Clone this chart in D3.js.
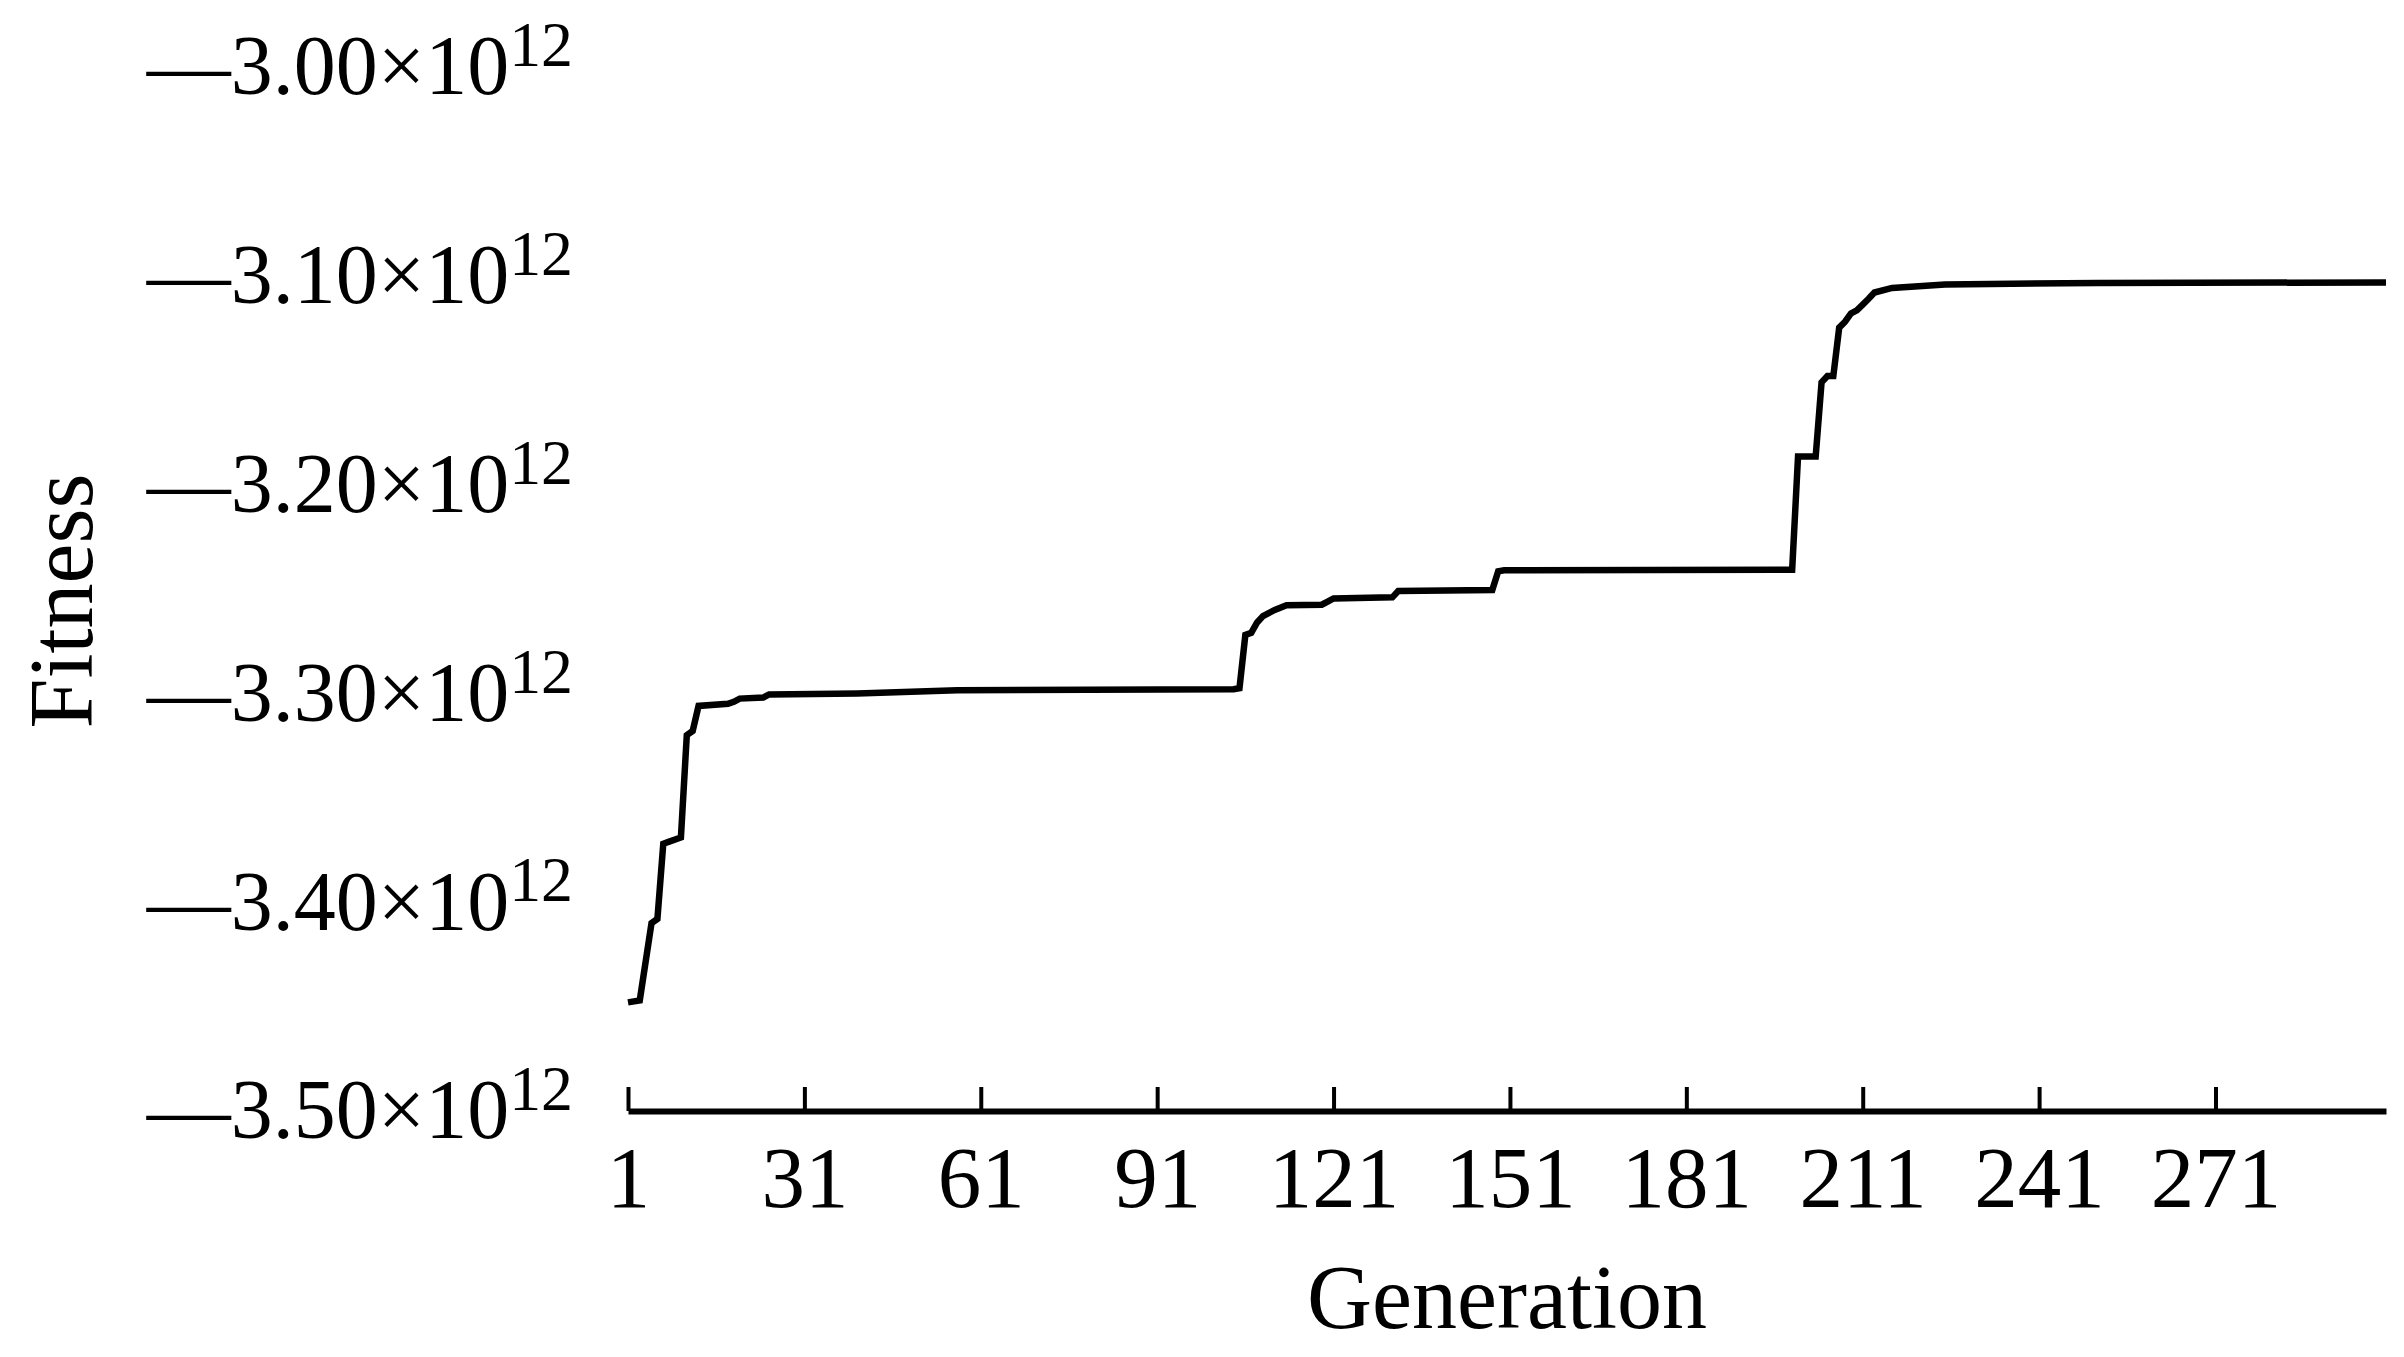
<!DOCTYPE html>
<html>
<head>
<meta charset="utf-8">
<script src="https://cdn.jsdelivr.net/npm/d3@7"></script>
<style>
  body { margin: 0; background: #fff; }
  text { font-family: "Liberation Serif", "DejaVu Serif", serif; fill: #000; }
</style>
</head>
<body>
<script>
// best fitness per generation (x 1e12)
const generations = [1, 3, 5, 6, 7, 8, 10, 11, 12, 13, 18, 19, 20, 24, 25, 40, 57, 104, 105,
  106, 107, 108, 109, 111, 113, 119, 120, 121, 131, 132, 148, 149, 150, 199, 200, 203,
  204, 205, 206, 207, 208, 209, 210, 211, 212, 213, 216, 225, 251, 300];
const fitness = [-3.448, -3.447, -3.410, -3.408, -3.372, -3.371, -3.369, -3.320, -3.318, -3.306,
  -3.305, -3.304, -3.3025, -3.302, -3.3005, -3.300, -3.2985, -3.298, -3.2975,
  -3.272, -3.271, -3.266, -3.263, -3.260, -3.2578, -3.2575, -3.256, -3.2545, -3.254, -3.251,
  -3.2505, -3.2415, -3.241, -3.2408, -3.1865, -3.1865,
  -3.151, -3.148, -3.148, -3.1248, -3.122, -3.118, -3.1165, -3.1138, -3.111, -3.108,
  -3.1058, -3.1042, -3.1034, -3.1032].map(v => v * 1e12);

const xTicks = [1, 31, 61, 91, 121, 151, 181, 211, 241, 271];
const yTicks = [-3.0e12, -3.1e12, -3.2e12, -3.3e12, -3.4e12, -3.5e12];

const W = 2404, H = 1357;

const svg = d3.select("body").append("svg")
    .attr("width", W)
    .attr("height", H);

// scales
const x = d3.scaleLinear().domain([1, 300]).range([628, 2386]);
const y = d3.scaleLinear().domain([-3.5e12, -3.0e12]).range([1111, 67]);

// x axis, ticks pointing up
const xAxis = svg.append("g")
    .attr("transform", "translate(0," + y(-3.5e12) + ")")
    .call(d3.axisBottom(x)
        .tickValues(xTicks)
        .tickSizeInner(-24)
        .tickSizeOuter(0)
        .tickPadding(34)
        .tickFormat(d3.format("d")));
xAxis.select(".domain").attr("stroke", "#000").attr("stroke-width", 6);
xAxis.selectAll(".tick line").attr("stroke", "#000").attr("stroke-width", 4);
xAxis.selectAll(".tick text")
    .style("font-size", "87px")
    .attr("fill", "#000");

// y axis: labels only
const yAxis = svg.append("g")
    .attr("transform", "translate(573,0)")
    .call(d3.axisLeft(y)
        .tickValues(yTicks)
        .tickSize(0)
        .tickPadding(0));
yAxis.select(".domain").remove();
yAxis.selectAll(".tick text")
    .style("font-size", "84px")
    .attr("fill", "#000")
    .each(function(d) {
        const t = d3.select(this);
        t.text(null);
        t.append("tspan").text("\u2014" + (Math.abs(d) / 1e12).toFixed(2) + "\u00d710");
        t.append("tspan")
            .attr("dy", "-0.44em")
            .style("font-size", "0.76em")
            .text("12");
    });

// line
const line = d3.line()
    .x((d, i) => x(generations[i]))
    .y(d => y(d));

svg.append("path")
    .datum(fitness)
    .attr("d", line)
    .attr("fill", "none")
    .attr("stroke", "#000")
    .attr("stroke-width", 6.5);

// axis titles
svg.append("text")
    .text("Generation")
    .attr("x", 1507)
    .attr("y", 1328)
    .attr("text-anchor", "middle")
    .style("font-size", "90px");

svg.append("text")
    .text("Fitness")
    .attr("transform", "translate(92,601) rotate(-90)")
    .attr("text-anchor", "middle")
    .style("font-size", "90px");
</script>
</body>
</html>
